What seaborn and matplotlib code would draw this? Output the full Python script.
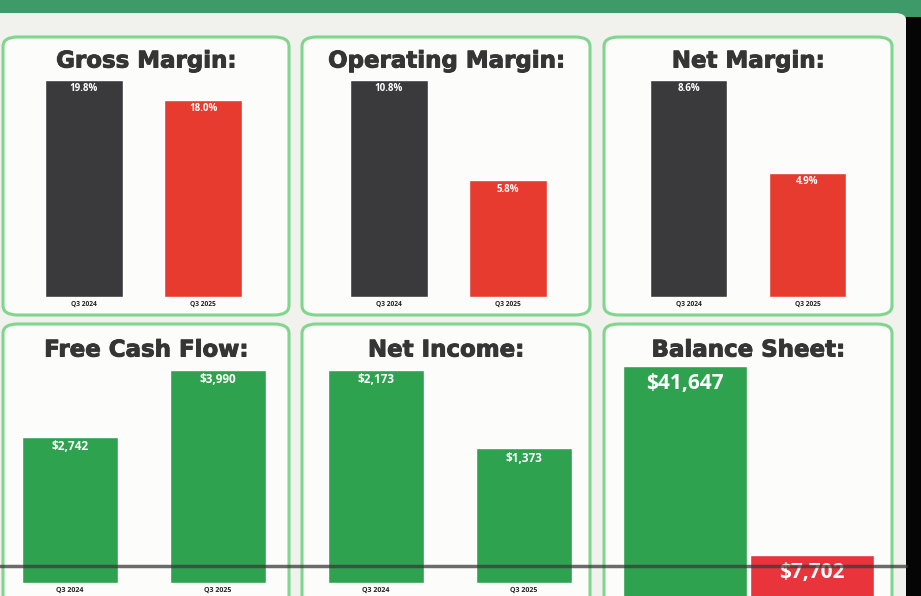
import matplotlib
matplotlib.use("Agg")
import matplotlib.pyplot as plt
import matplotlib.patheffects as pe
import seaborn as sns
import pandas as pd
from matplotlib.patches import FancyBboxPatch, Rectangle
from matplotlib.lines import Line2D

# Dane
quarters = ["Q3 2024", "Q3 2025"]
gross_margin = [19.8, 18.0]
operating_margin = [10.8, 5.8]
net_margin = [8.6, 4.9]
free_cash_flow = [2742, 3990]
net_income = [2173, 1373]
balance_labels = ["Assets", "Liabilities"]
balance_sheet = [41647, 7702]

titles = ["Gross Margin:", "Operating Margin:", "Net Margin:",
          "Free Cash Flow:", "Net Income:", "Balance Sheet:"]

DARK = "#3a3a3c"
RED = "#e63b2e"
GREEN = "#2ea24f"
BORDER = "#7fd68c"
TXT = "#353535"

W, H = 921, 596
fig = plt.figure(figsize=(W / 100, H / 100), dpi=100)
fig.patch.set_facecolor("#3e9a68")

sns.set_style("white")
plt.rcParams["font.family"] = ["Open Sans", "DejaVu Sans"]


def fx(x):
    return x / W


def fy(y):
    return 1 - y / H


# tlo strony
fig.add_artist(FancyBboxPatch((fx(-20), fy(640)), fx(926), (640 - 13) / H,
                              boxstyle="round,pad=0,rounding_size=0.012",
                              transform=fig.transFigure, fc="#f1f1ed", ec="none", zorder=0))
fig.add_artist(Rectangle((fx(906), 0), fx(15), fy(17), transform=fig.transFigure,
                         fc="#050505", ec="none", zorder=0.5))

# ramki paneli
panel_boxes = [(3, 37, 289, 315), (302, 37, 590, 315), (604, 37, 892, 315),
               (3, 324, 289, 640), (302, 324, 590, 640), (604, 324, 892, 640)]
for x0, y0, x1, y1 in panel_boxes:
    fig.add_artist(FancyBboxPatch((fx(x0), fy(y1)), fx(x1 - x0), (y1 - y0) / H,
                                  boxstyle="round,pad=0,rounding_size=0.016",
                                  transform=fig.transFigure, fc="#fcfcfa", ec=BORDER,
                                  lw=2.2, zorder=1))

title_pos = [(146, 61), (446, 61), (748, 61), (146, 350), (446, 350), (748, 350)]
for t, (x, y) in zip(titles, title_pos):
    fig.text(fx(x), fy(y), t, ha="center", va="center", fontsize=16.5,
             fontweight="bold", color=TXT, zorder=3, family="DejaVu Sans",
             path_effects=[pe.withStroke(linewidth=0.7, foreground=TXT)])


def bar_panel(box, labels, values, colors, width, fmt, fs, pad, tick_fs, tick_pad):
    # box: x-left, y-top, x-right, y-bottom w pikselach (zakres osi dla xlim -0.5..1.5, ylim 0..max)
    l, t, r, b = box
    ax = fig.add_axes([fx(l), fy(b), fx(r - l), (b - t) / H], zorder=2)
    df = pd.DataFrame({"q": labels, "v": values})
    sns.barplot(data=df, x="q", y="v", hue="q", palette=colors, width=width,
                legend=False, ax=ax, saturation=1)
    ax.set_xlim(-0.5, 1.5)
    ax.set_ylim(0, max(values))
    ax.patch.set_alpha(0)
    sns.despine(ax=ax, left=True, bottom=True)
    ax.set_yticks([])
    ax.set_xlabel("")
    ax.set_ylabel("")
    ax.tick_params(axis="x", length=0, pad=tick_pad, labelsize=tick_fs)
    for lab in ax.get_xticklabels():
        lab.set_fontweight("bold")
        lab.set_color("#222222")
    for p, v in zip(ax.patches, values):
        ax.annotate(fmt.format(v), (p.get_x() + p.get_width() / 2, p.get_height()),
                    xytext=(0, -pad), textcoords="offset points", ha="center", va="top",
                    color="white", fontsize=fs, fontweight="bold")
    return ax


bar_panel((24, 80, 263, 297), quarters, gross_margin, [DARK, RED], 0.65,
          "{:.1f}%", 7, 2.2, 4.8, 3)
bar_panel((329, 80, 568, 297), quarters, operating_margin, [DARK, RED], 0.65,
          "{:.1f}%", 7, 2.2, 4.8, 3)
bar_panel((629, 80, 867, 297), quarters, net_margin, [DARK, RED], 0.65,
          "{:.1f}%", 7, 2.2, 4.8, 3)
bar_panel((-4, 370, 292, 583), quarters, free_cash_flow, [GREEN, GREEN], 0.65,
          "${:,}", 8.5, 2.5, 5, 3)
bar_panel((302, 370, 598, 583), quarters, net_income, [GREEN, GREEN], 0.65,
          "${:,}", 8.5, 2.5, 5, 3)
ax6 = bar_panel((621, 366, 876, 598), balance_labels, balance_sheet, [GREEN, "#e8343a"], 0.976,
                "${:,}", 15, 5, 5, 3)
ax6.set_xticklabels([])

# linia na dole ekranu
fig.add_artist(Line2D([0, fx(906)], [fy(566), fy(566)], transform=fig.transFigure,
                      color="#3a3a3a", alpha=0.75, lw=2.5, zorder=10))

fig.savefig("out.png", dpi=100, facecolor=fig.get_facecolor())
